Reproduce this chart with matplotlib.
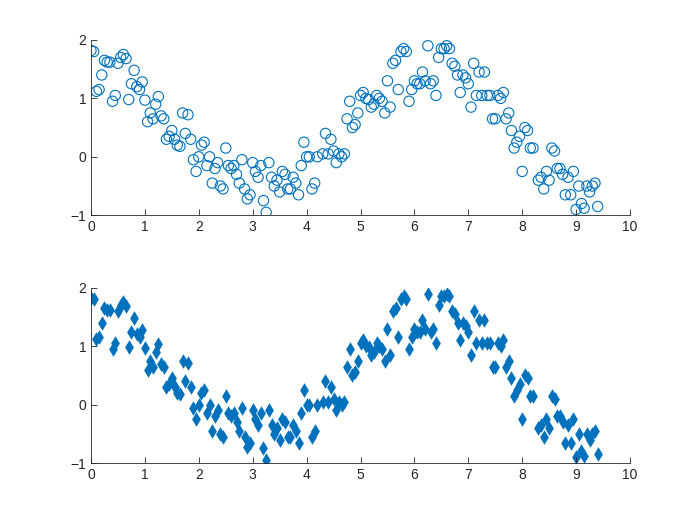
import matplotlib
matplotlib.use("Agg")
import matplotlib.pyplot as plt

x = [0.0, 0.05, 0.1, 0.15, 0.2, 0.25, 0.3, 0.35, 0.4, 0.45, 0.5, 0.55, 0.6, 0.65, 0.7, 0.75,
     0.8, 0.85, 0.9, 0.95, 1.0, 1.05, 1.1, 1.15, 1.2, 1.25, 1.3, 1.35, 1.4, 1.45, 1.5, 1.55,
     1.6, 1.65, 1.7, 1.75, 1.8, 1.85, 1.9, 1.95, 2.0, 2.05, 2.1, 2.15, 2.2, 2.25, 2.3, 2.35,
     2.4, 2.45, 2.5, 2.55, 2.6, 2.65, 2.7, 2.75, 2.8, 2.85, 2.9, 2.95, 3.0, 3.05, 3.1, 3.15,
     3.2, 3.25, 3.3, 3.35, 3.4, 3.45, 3.5, 3.55, 3.6, 3.65, 3.7, 3.75, 3.8, 3.85, 3.9, 3.95,
     4.0, 4.05, 4.1, 4.15, 4.2, 4.3, 4.35, 4.4, 4.45, 4.5, 4.55, 4.6, 4.65, 4.7, 4.75, 4.8,
     4.85, 4.9, 4.95, 5.0, 5.05, 5.1, 5.15, 5.2, 5.25, 5.3, 5.35, 5.4, 5.45, 5.5, 5.55, 5.6,
     5.65, 5.7, 5.75, 5.8, 5.85, 5.9, 5.95, 6.0, 6.05, 6.1, 6.15, 6.2, 6.25, 6.3, 6.35, 6.4,
     6.45, 6.5, 6.55, 6.6, 6.65, 6.7, 6.75, 6.8, 6.85, 6.9, 6.95, 7.0, 7.05, 7.1, 7.15, 7.2,
     7.25, 7.3, 7.35, 7.4, 7.45, 7.5, 7.55, 7.6, 7.65, 7.7, 7.75, 7.8, 7.85, 7.9, 7.95, 8.0,
     8.05, 8.1, 8.15, 8.2, 8.3, 8.35, 8.4, 8.45, 8.5, 8.55, 8.6, 8.65, 8.7, 8.75, 8.8, 8.85,
     8.9, 8.95, 9.0, 9.05, 9.1, 9.15, 9.2, 9.25, 9.3, 9.35, 9.4]

y = [1.82, 1.80, 1.12, 1.15, 1.40, 1.65, 1.62, 1.62, 0.95, 1.05, 1.60, 1.70, 1.75, 1.68, 0.98, 1.25,
     1.48, 1.20, 1.15, 1.28, 0.97, 0.60, 0.75, 0.65, 0.90, 1.03, 0.70, 0.65, 0.30, 0.35, 0.45, 0.30,
     0.20, 0.18, 0.75, 0.40, 0.72, 0.30, -0.05, -0.25, 0.0, 0.20, 0.25, -0.15, 0.0, -0.45, -0.20, -0.10,
     -0.50, -0.55, 0.15, -0.15, -0.20, -0.15, -0.30, -0.45, -0.05, -0.55, -0.72, -0.65, -0.10, -0.25, -0.35, -0.15,
     -0.75, -0.95, -0.10, -0.35, -0.50, -0.40, -0.60, -0.25, -0.30, -0.55, -0.55, -0.35, -0.45, -0.65, -0.15, 0.25,
     0.0, 0.0, -0.55, -0.45, 0.0, 0.05, 0.40, 0.05, 0.30, 0.10, -0.10, 0.05, 0.0, 0.05, 0.65, 0.95,
     0.50, 0.55, 0.75, 1.05, 1.10, 1.00, 0.98, 0.85, 0.90, 1.05, 1.00, 0.95, 0.75, 1.30, 0.85, 1.60,
     1.65, 1.15, 1.80, 1.85, 1.80, 0.95, 1.15, 1.30, 1.25, 1.25, 1.45, 1.30, 1.90, 1.25, 1.30, 1.05,
     1.70, 1.85, 1.85, 1.90, 1.85, 1.60, 1.55, 1.40, 1.10, 1.40, 1.35, 1.25, 0.85, 1.60, 1.05, 1.45,
     1.05, 1.45, 1.05, 1.05, 0.65, 0.65, 1.05, 1.00, 1.10, 0.65, 0.75, 0.45, 0.15, 0.25, 0.35, -0.25,
     0.50, 0.45, 0.15, 0.15, -0.40, -0.35, -0.55, -0.25, -0.40, 0.15, 0.10, -0.20, -0.20, -0.30, -0.65, -0.35,
     -0.65, -0.25, -0.90, -0.50, -0.80, -0.88, -0.50, -0.60, -0.50, -0.45, -0.85]

BLUE = "#0072BD"
plt.rcParams["font.family"] = ["Liberation Sans", "DejaVu Sans"]

fig = plt.figure(figsize=(7, 5.25), dpi=100)
ax1 = fig.add_axes([0.13, 0.590, 0.77, 0.334])
ax2 = fig.add_axes([0.13, 0.118, 0.77, 0.334])

ax1.scatter(x, y, s=55, facecolors="none", edgecolors=BLUE, linewidths=0.8)
ax2.scatter(x, y, s=55, marker="d", color=BLUE, linewidths=0)

for ax in (ax1, ax2):
    ax.set_xlim(0, 10)
    ax.set_ylim(-1, 2)
    ax.set_xticks(range(0, 11))
    ax.set_yticks([-1, 0, 1, 2])
    ax.spines["top"].set_visible(False)
    ax.spines["right"].set_visible(False)
    for s in ("left", "bottom"):
        ax.spines[s].set_color("#262626")
        ax.spines[s].set_linewidth(0.6)
    ax.tick_params(direction="in", length=4, width=0.6, colors="#262626", labelsize=10)

fig.savefig("out.png", dpi=100)
